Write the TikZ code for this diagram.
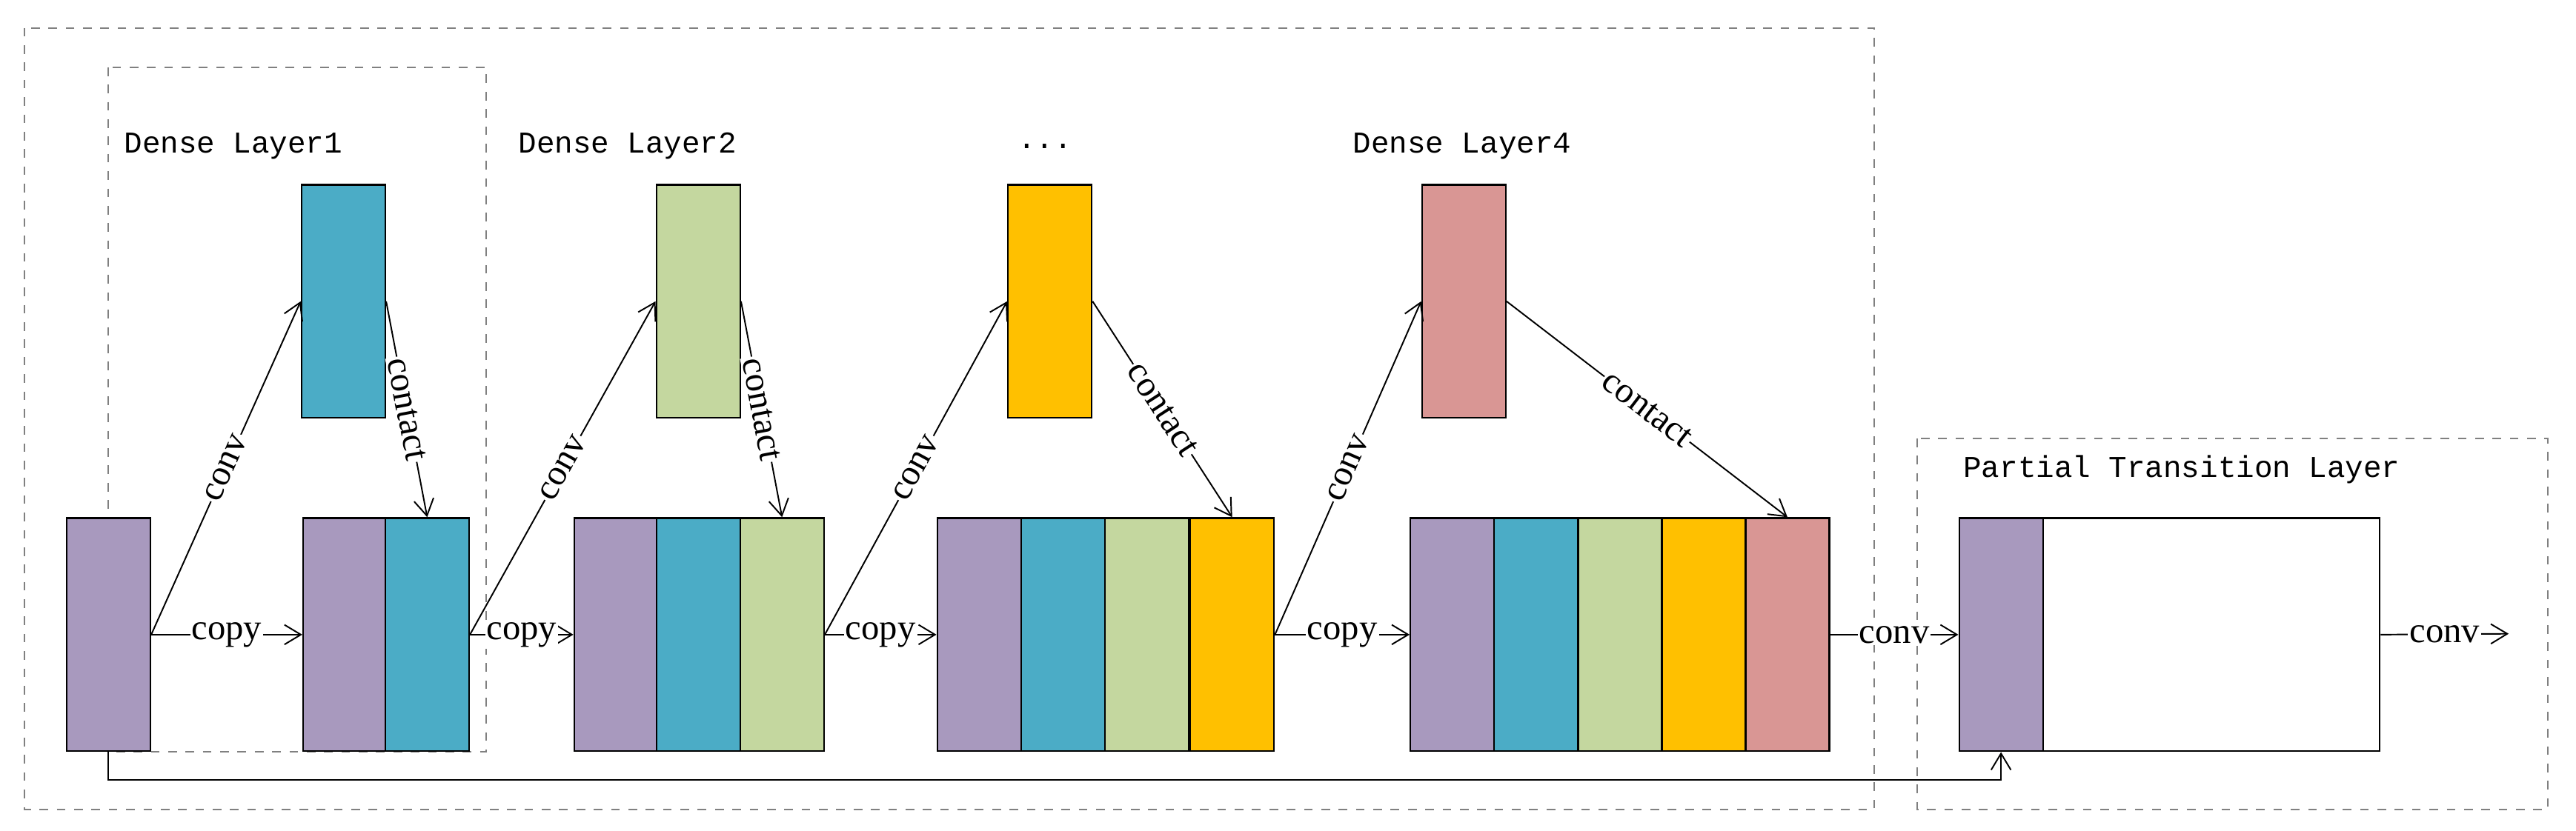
\documentclass[tikz,border=0pt]{standalone}
\usepackage{fontspec}
\usetikzlibrary{arrows.meta}
\setmainfont{Liberation Serif}
\newfontfamily\monof{Liberation Mono}
\begin{document}
\begin{tikzpicture}[x=0.2mm,y=-0.2mm,
  blk/.style={draw,line width=0.6pt,minimum width=10.2mm,minimum height=28.4mm,inner sep=0pt,anchor=north west},
  dbox/.style={draw=gray,dashed,line width=0.5pt},
  arr/.style={-{Straight Barb[length=2mm,width=2.4mm]},line width=0.5pt},
  lab/.style={font=\fontsize{12.5}{12.5}\selectfont,fill=white,inner sep=0.5pt},
  ttl/.style={font=\monof\fontsize{10.5}{10.5}\selectfont},
]
\definecolor{cp}{HTML}{A899BE}
\definecolor{cb}{HTML}{4BACC6}
\definecolor{cg}{HTML}{C4D79F}
\definecolor{cy}{HTML}{FFC000}
\definecolor{ck}{HTML}{D99694}
\useasboundingbox (0,0) rectangle (1568,506);
\draw[dbox] (15,17) rectangle (1141,493);
\draw[dbox] (66,41) rectangle (296,458);
\draw[dbox] (1167,267) rectangle (1551,493);
\node[ttl] (h1) at (142,89) {Dense Layer1};
\node[ttl] (h2) at (382,89) {Dense Layer2};
\node[ttl] (h3) at (636,89) {...};
\node[ttl] (h4) at (890,89) {Dense Layer4};
\node[ttl] (h5) at (1328,286) {Partial Transition Layer};
% input
\node[blk,fill=cp] (in) at (40,315) {};
% layer1
\node[blk,fill=cb] (t1) at (183,112) {};
\node[blk,fill=cp] (a1) at (184,315) {};
\node[blk,fill=cb] (b1) at (234,315) {};
% layer2
\node[blk,fill=cg] (t2) at (399,112) {};
\node[blk,fill=cp] (a2) at (349,315) {};
\node[blk,fill=cb] (b2) at (399,315) {};
\node[blk,fill=cg] (c2) at (450,315) {};
% layer3
\node[blk,fill=cy] (t3) at (613,112) {};
\node[blk,fill=cp] (a3) at (570,315) {};
\node[blk,fill=cb] (b3) at (621,315) {};
\node[blk,fill=cg] (c3) at (672,315) {};
\node[blk,fill=cy] (d3) at (724,315) {};
% layer4
\node[blk,fill=ck] (t4) at (865,112) {};
\node[blk,fill=cp] (a4) at (858,315) {};
\node[blk,fill=cb] (b4) at (909,315) {};
\node[blk,fill=cg] (c4) at (960,315) {};
\node[blk,fill=cy] (d4) at (1011,315) {};
\node[blk,fill=ck] (e4) at (1062,315) {};
% transition
\node[blk,fill=cp] (p) at (1192,315) {};
\node[blk,fill=white,minimum width=41mm] (w) at (1243,315) {};
\coordinate (out) at (1527,386);
\coordinate (c1) at (66,475);
\coordinate (c2x) at (1218,475);
% arrows
\draw[arr] (in.east) -- node[lab]{copy} (a1.west);
\draw[arr] (in.east) -- node[lab,sloped]{conv} (t1.west);
\draw[arr] (t1.east) -- node[lab,sloped]{contact} (b1.north);
\draw[arr] (b1.east) -- node[lab]{copy} (a2.west);
\draw[arr] (b1.east) -- node[lab,sloped]{conv} (t2.west);
\draw[arr] (t2.east) -- node[lab,sloped]{contact} (c2.north);
\draw[arr] (c2.east) -- node[lab]{copy} (a3.west);
\draw[arr] (c2.east) -- node[lab,sloped]{conv} (t3.west);
\draw[arr] (t3.east) -- node[lab,sloped]{contact} (d3.north);
\draw[arr] (d3.east) -- node[lab]{copy} (a4.west);
\draw[arr] (d3.east) -- node[lab,sloped]{conv} (t4.west);
\draw[arr] (t4.east) -- node[lab,sloped]{contact} (e4.north);
\draw[arr] (e4.east) -- node[lab]{conv} (p.west);
\draw[arr] (w.east) -- node[lab]{conv} (out);
\draw[arr] (in.south -| c1) -- (c1) -- (c2x) -- (p.south -| c2x);
\end{tikzpicture}
\end{document}
